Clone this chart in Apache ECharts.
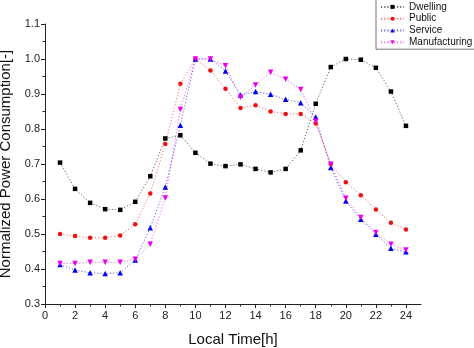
<!DOCTYPE html>
<html>
<head>
<meta charset="utf-8">
<script src="https://cdn.jsdelivr.net/npm/echarts@6/dist/echarts.min.js"></script>
<style>
  html, body { margin: 0; padding: 0; background: #fff; }
  #chart { width: 474px; height: 348px; }
</style>
</head>
<body>
<div id="chart"></div>
<script>
// Hour of day for each sample
const hours = [1, 2, 3, 4, 5, 6, 7, 8, 9, 10, 11, 12, 13, 14, 15, 16, 17, 18, 19, 20, 21, 22, 23, 24];

// Normalized load profiles per consumer type
const dwelling = [0.704, 0.629, 0.589, 0.571, 0.569, 0.592, 0.665, 0.773, 0.782, 0.732, 0.701, 0.694,
                  0.699, 0.686, 0.676, 0.686, 0.739, 0.872, 0.977, 1.0, 0.998, 0.975, 0.907, 0.809];
const publicUse = [0.500, 0.494, 0.489, 0.489, 0.496, 0.528, 0.616, 0.757, 0.929, 1.0, 0.967, 0.915,
                   0.860, 0.868, 0.850, 0.843, 0.843, 0.816, 0.700, 0.648, 0.611, 0.570, 0.532, 0.513];
const service = [0.413, 0.397, 0.389, 0.387, 0.389, 0.426, 0.518, 0.634, 0.811, 1.0, 1.0, 0.966,
                 0.897, 0.907, 0.899, 0.885, 0.875, 0.834, 0.690, 0.594, 0.542, 0.499, 0.459, 0.449];
const manufacturing = [0.416, 0.416, 0.419, 0.419, 0.419, 0.428, 0.471, 0.603, 0.856, 1.0, 1.0, 0.981,
                       0.891, 0.926, 0.962, 0.942, 0.913, 0.822, 0.699, 0.602, 0.547, 0.504, 0.471, 0.454];

// Axis tick positions
const xMajorTicks = [0, 2, 4, 6, 8, 10, 12, 14, 16, 18, 20, 22, 24];
const xMinorTicks = [1, 3, 5, 7, 9, 11, 13, 15, 17, 19, 21, 23];

const FONT = '"Liberation Sans", Arial, sans-serif';

function pairs(vals) {
  return hours.map((h, i) => [h, vals[i]]);
}

function makeSeries(name, vals, color, symbol, size) {
  return {
    name: name,
    type: 'line',
    data: pairs(vals),
    symbol: symbol,
    symbolSize: size,
    showAllSymbol: true,
    lineStyle: { color: color, width: 1, type: [1.2, 2], opacity: 0.6 },
    itemStyle: { color: color },
    emphasis: { disabled: true },
    animation: false
  };
}

const chart = echarts.init(document.getElementById('chart'), null, { renderer: 'canvas' });

chart.setOption({
  backgroundColor: '#fff',
  animation: false,
  grid: { left: 45, right: 53, top: 24, bottom: 44, outerBoundsMode: 'none', containLabel: false },
  legend: {
    left: 376,
    top: -2,
    orient: 'vertical',
    padding: [3, 4, 1, 4],
    itemWidth: 23,
    itemHeight: 5,
    itemGap: 0,
    borderColor: '#777',
    borderWidth: 1,
    backgroundColor: '#fff',
    textStyle: { fontFamily: FONT, fontSize: 10, color: '#111', lineHeight: 11.8 },
    data: ['Dwelling', 'Public', 'Service', 'Manufacturing']
  },
  xAxis: [
    {
      type: 'value',
      min: 0,
      max: 25,
      name: 'Local Time[h]',
      nameLocation: 'middle',
      nameGap: 28,
      nameTextStyle: { fontFamily: FONT, fontSize: 15, color: '#111' },
      axisLine: { show: true, onZero: false, lineStyle: { color: '#222', width: 1 } },
      axisTick: { show: true, length: 4, customValues: xMajorTicks, lineStyle: { color: '#222' } },
      axisLabel: { customValues: xMajorTicks, fontFamily: FONT, fontSize: 11, color: '#222', margin: 6 },
      splitLine: { show: false }
    },
    {
      type: 'value',
      min: 0,
      max: 25,
      position: 'bottom',
      axisLine: { show: false },
      axisTick: { show: true, length: 2.5, customValues: xMinorTicks, lineStyle: { color: '#222' } },
      axisLabel: { show: false },
      splitLine: { show: false }
    }
  ],
  yAxis: {
    type: 'value',
    min: 0.3,
    max: 1.1,
    interval: 0.1,
    name: 'Normalized Power Consumption[-]',
    nameLocation: 'middle',
    nameGap: 27,
    nameTextStyle: { fontFamily: FONT, fontSize: 15, color: '#111' },
    axisLine: { show: true, lineStyle: { color: '#222', width: 1 } },
    axisTick: { show: true, length: 4, lineStyle: { color: '#222' } },
    minorTick: { show: true, splitNumber: 2, length: 2.5, lineStyle: { color: '#222' } },
    axisLabel: {
      fontFamily: FONT, fontSize: 11, color: '#222', margin: 5,
      formatter: v => v.toFixed(1)
    },
    splitLine: { show: false }
  },
  series: [
    makeSeries('Dwelling', dwelling, '#000000', 'rect', 4.5),
    makeSeries('Public', publicUse, '#ee1111', 'circle', 4.5),
    makeSeries('Service', service, '#0000ee', 'triangle', 5.5),
    makeSeries('Manufacturing', manufacturing, '#ee00ee', 'path://M0,0 L10,0 L5,9 Z', 5.5)
  ]
});
</script>
</body>
</html>
